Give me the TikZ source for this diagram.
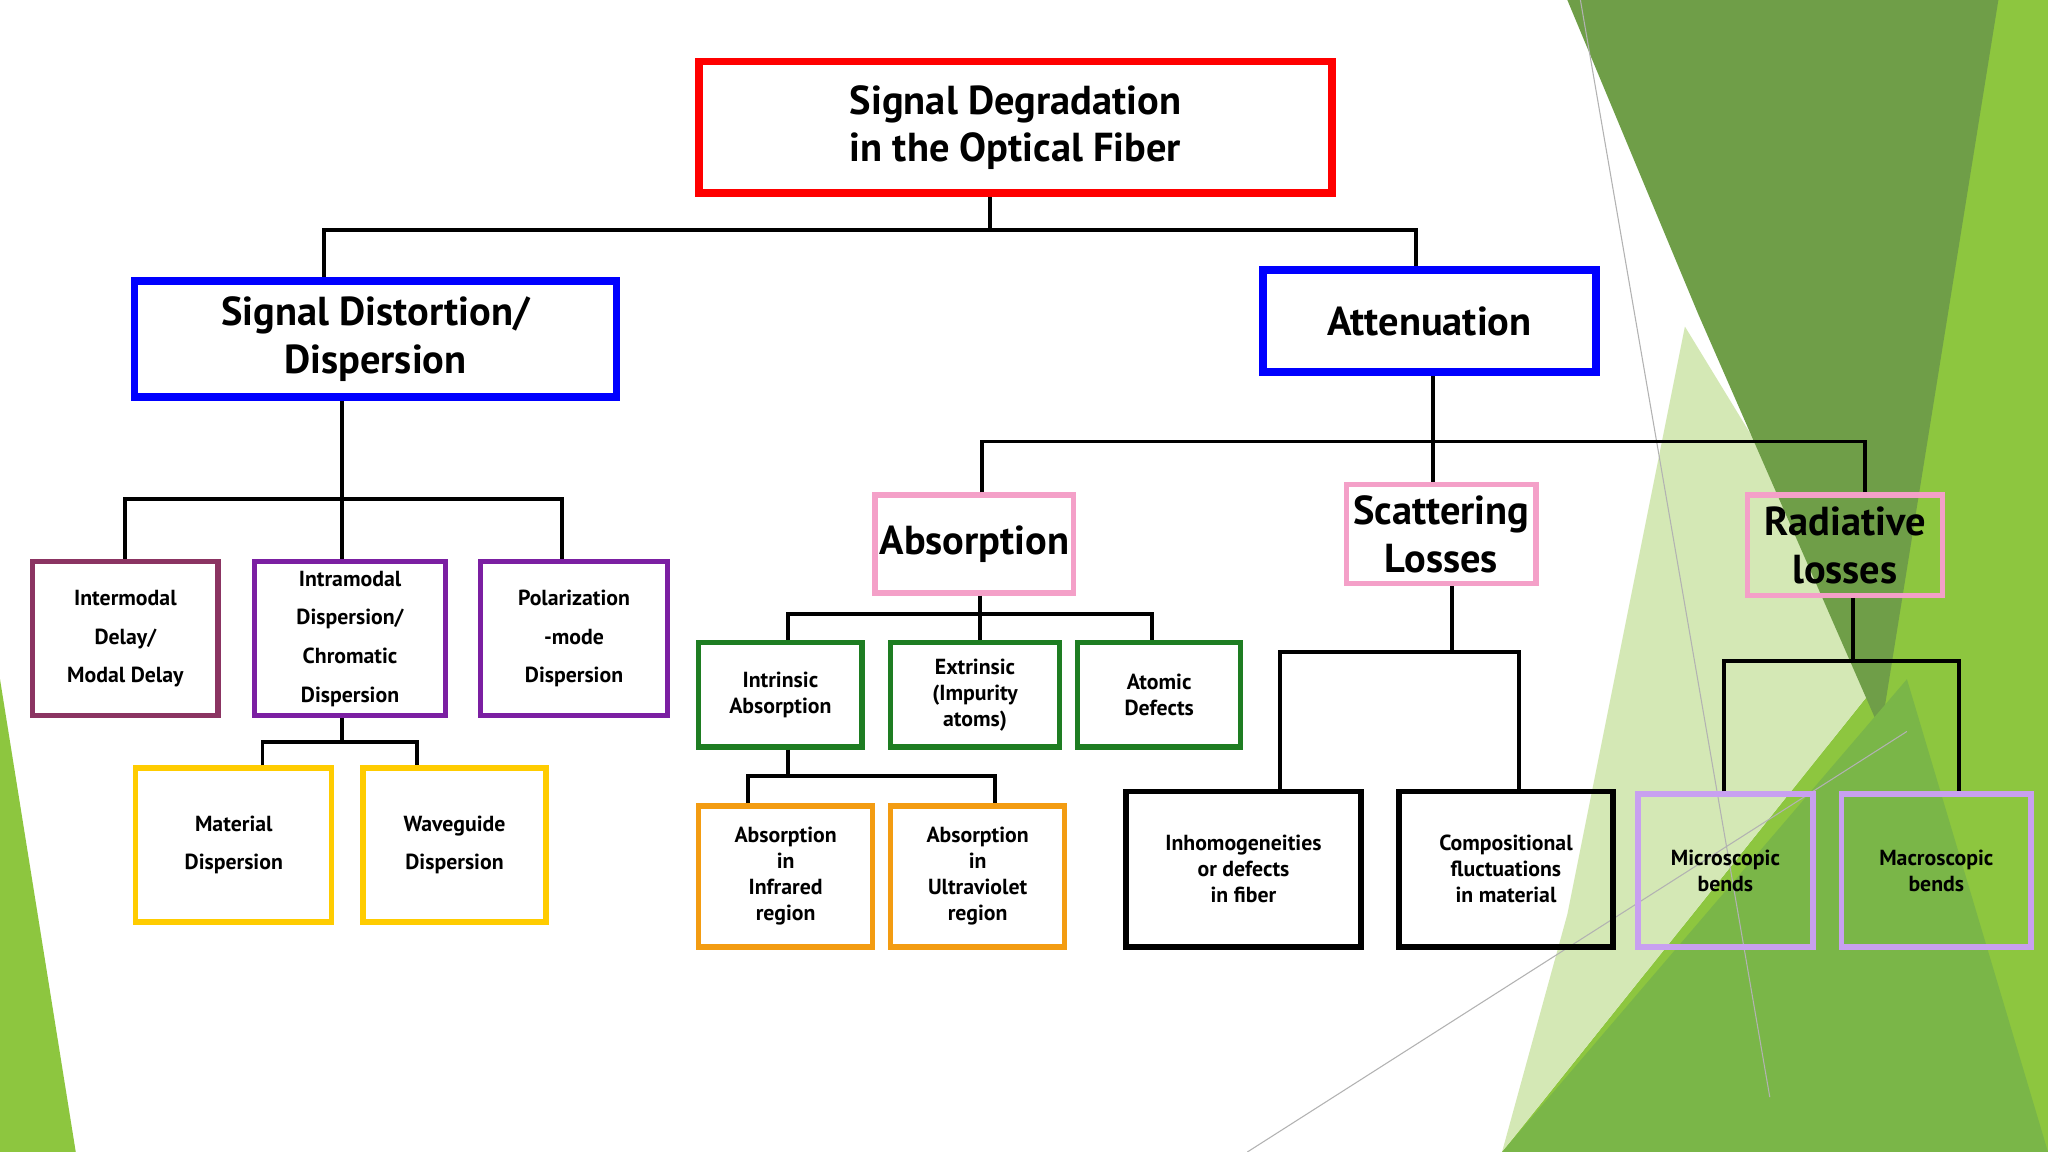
\documentclass[tikz,border=0pt]{standalone}
\usepackage{fontspec}
\setmainfont{PT Sans}
\begin{document}
\begin{tikzpicture}[x=0.013061cm,y=-0.013061cm,
 box/.style={draw,line width=#1,inner sep=0pt,align=center,font=\bfseries},
 wh/.style 2 args={minimum width=#1*0.013061cm,minimum height=#2*0.013061cm},
 big/.style={font=\fontsize{11.5}{13.5}\selectfont\bfseries},
 sm/.style={font=\fontsize{6.2}{7.4}\selectfont\bfseries},
 smw/.style={font=\fontsize{6.2}{11}\selectfont\bfseries},
 ln/.style={line width=1.1pt}]
\useasboundingbox (0,0) rectangle (1568,882);
% background
\fill[white] (0,0) rectangle (1568,882);
\fill[color={rgb,255:red,141;green,198;blue,63}] (0,520) -- (58,882) -- (0,882) -- cycle;
\fill[color={rgb,255:red,141;green,198;blue,63}] (1440,0) -- (1568,0) -- (1568,882) -- (1150,882) -- (1440,520) -- cycle;
\fill[color={rgb,255:red,212;green,232;blue,181}] (1290,250) -- (1400,430) -- (1440,520) -- (1150,882) -- (1200,700) -- cycle;
\fill[color={rgb,255:red,111;green,158;blue,72}] (1200,0) -- (1530,0) -- (1440,560) -- (1300,240) -- cycle;
\fill[color={rgb,255:red,122;green,182;blue,72}] (1150,882) -- (1460,520) -- (1568,882) -- cycle;
\draw[gray!60,line width=0.3pt] (1210,0) -- (1355,840);
\draw[gray!60,line width=0.3pt] (955,882) -- (1460,560);
% nodes
\definecolor{mar}{RGB}{139,52,98}\definecolor{pur}{RGB}{123,31,162}
\definecolor{yel}{RGB}{255,204,0}\definecolor{pnk}{RGB}{244,160,200}
\definecolor{grn}{RGB}{30,125,34}\definecolor{org}{RGB}{243,156,18}
\definecolor{lav}{RGB}{200,160,240}
\node[box=2.2pt,draw=red,big,wh={485}{101}] (root) at (777.5,97.5) {Signal Degradation\\in the Optical Fiber};
\node[box=2.2pt,draw=blue,big,wh={369}{89}] (dist) at (287.5,259.5) {Signal Distortion/\\Dispersion};
\node[box=2.2pt,draw=blue,big,wh={255}{78}] (att) at (1094.5,246) {Attenuation};
\node[box=1.5pt,draw=mar,smw,wh={142}{118}] (inter) at (96,489) {Intermodal\\Delay/\\Modal Delay};
\node[box=1.5pt,draw=pur,smw,wh={146}{118}] (intra) at (268,489) {Intramodal\\Dispersion/\\Chromatic\\Dispersion};
\node[box=1.5pt,draw=pur,smw,wh={143}{118}] (pol) at (439.5,489) {Polarization\\-mode\\Dispersion};
\node[box=1.5pt,draw=yel,smw,wh={150}{118}] (mat) at (179,647) {Material\\Dispersion};
\node[box=1.5pt,draw=yel,smw,wh={140}{118}] (wav) at (348,647) {Waveguide\\Dispersion};
\node[box=1.5pt,draw=pnk,big,wh={152}{75}] (abs) at (746,416.5) {Absorption};
\node[box=1.5pt,draw=pnk,big,wh={145}{76}] (sca) at (1103.5,409) {Scattering\\Losses};
\node[box=1.5pt,draw=pnk,big,wh={149}{77}] (rad) at (1412.5,417.5) {Radiative\\losses};
\node[box=1.5pt,draw=grn,sm,wh={125}{80}] (intr) at (597.5,532) {Intrinsic\\Absorption};
\node[box=1.5pt,draw=grn,sm,wh={129}{80}] (extr) at (746.5,532) {Extrinsic\\(Impurity\\atoms)};
\node[box=1.5pt,draw=grn,sm,wh={125}{80}] (atom) at (887.5,532) {Atomic\\Defects};
\node[box=1.5pt,draw=org,sm,wh={133}{108}] (ir) at (601.5,671) {Absorption\\in\\Infrared\\region};
\node[box=1.5pt,draw=org,sm,wh={133}{108}] (uv) at (748.5,671) {Absorption\\in\\Ultraviolet\\region};
\node[box=1.5pt,draw=black,sm,wh={180}{119}] (inh) at (952,665.5) {Inhomogeneities\\or defects\\in fiber};
\node[box=1.5pt,draw=black,sm,wh={164}{119}] (comp) at (1153,665.5) {Compositional\\fluctuations\\in material};
\node[box=1.5pt,draw=lav,sm,wh={134}{117}] (mic) at (1321,666.5) {Microscopic\\bends};
\node[box=1.5pt,draw=lav,sm,wh={145}{117}] (mac) at (1482.5,666.5) {Macroscopic\\bends};
% junctions
\coordinate (j0) at (758,176);
\coordinate (j1) at (262,382);
\coordinate (j2) at (262,568);
\coordinate (j3) at (1097,338);
\coordinate (j4) at (750,470);
\coordinate (j5) at (603,594);
\coordinate (j6) at (1112,499);
\coordinate (j7) at (1419,506);
\draw[ln] (root.south-|j0) -- (j0); \draw[ln] (dist.north-|248,0) |- (j0) -| (att.north-|1084,0);
\draw[ln] (dist.south-|j1) -- (j1); \draw[ln] (inter.north) |- (j1) -| (pol.north-|430,0); \draw[ln] (j1) -- (intra.north-|j1);
\draw[ln] (intra.south-|j2) -- (j2); \draw[ln] (mat.north-|201,0) |- (j2) -| (wav.north-|319,0);
\draw[ln] (att.south-|j3) -- (j3); \draw[ln] (abs.north-|752,0) |- (j3) -| (rad.north-|1428,0); \draw[ln] (j3) -- (sca.north-|j3);
\draw[ln] (abs.south-|j4) -- (j4); \draw[ln] (intr.north-|603,0) |- (j4) -| (atom.north-|882,0); \draw[ln] (j4) -- (extr.north-|j4);
\draw[ln] (intr.south-|j5) -- (j5); \draw[ln] (ir.north-|573,0) |- (j5) -| (uv.north-|762,0);
\draw[ln] (sca.south-|j6) -- (j6); \draw[ln] (inh.north-|980,0) |- (j6) -| (comp.north-|1163,0);
\draw[ln] (rad.south-|j7) -- (j7); \draw[ln] (mic.north-|1320,0) |- (j7) -| (mac.north-|1500,0);
\end{tikzpicture}
\end{document}
